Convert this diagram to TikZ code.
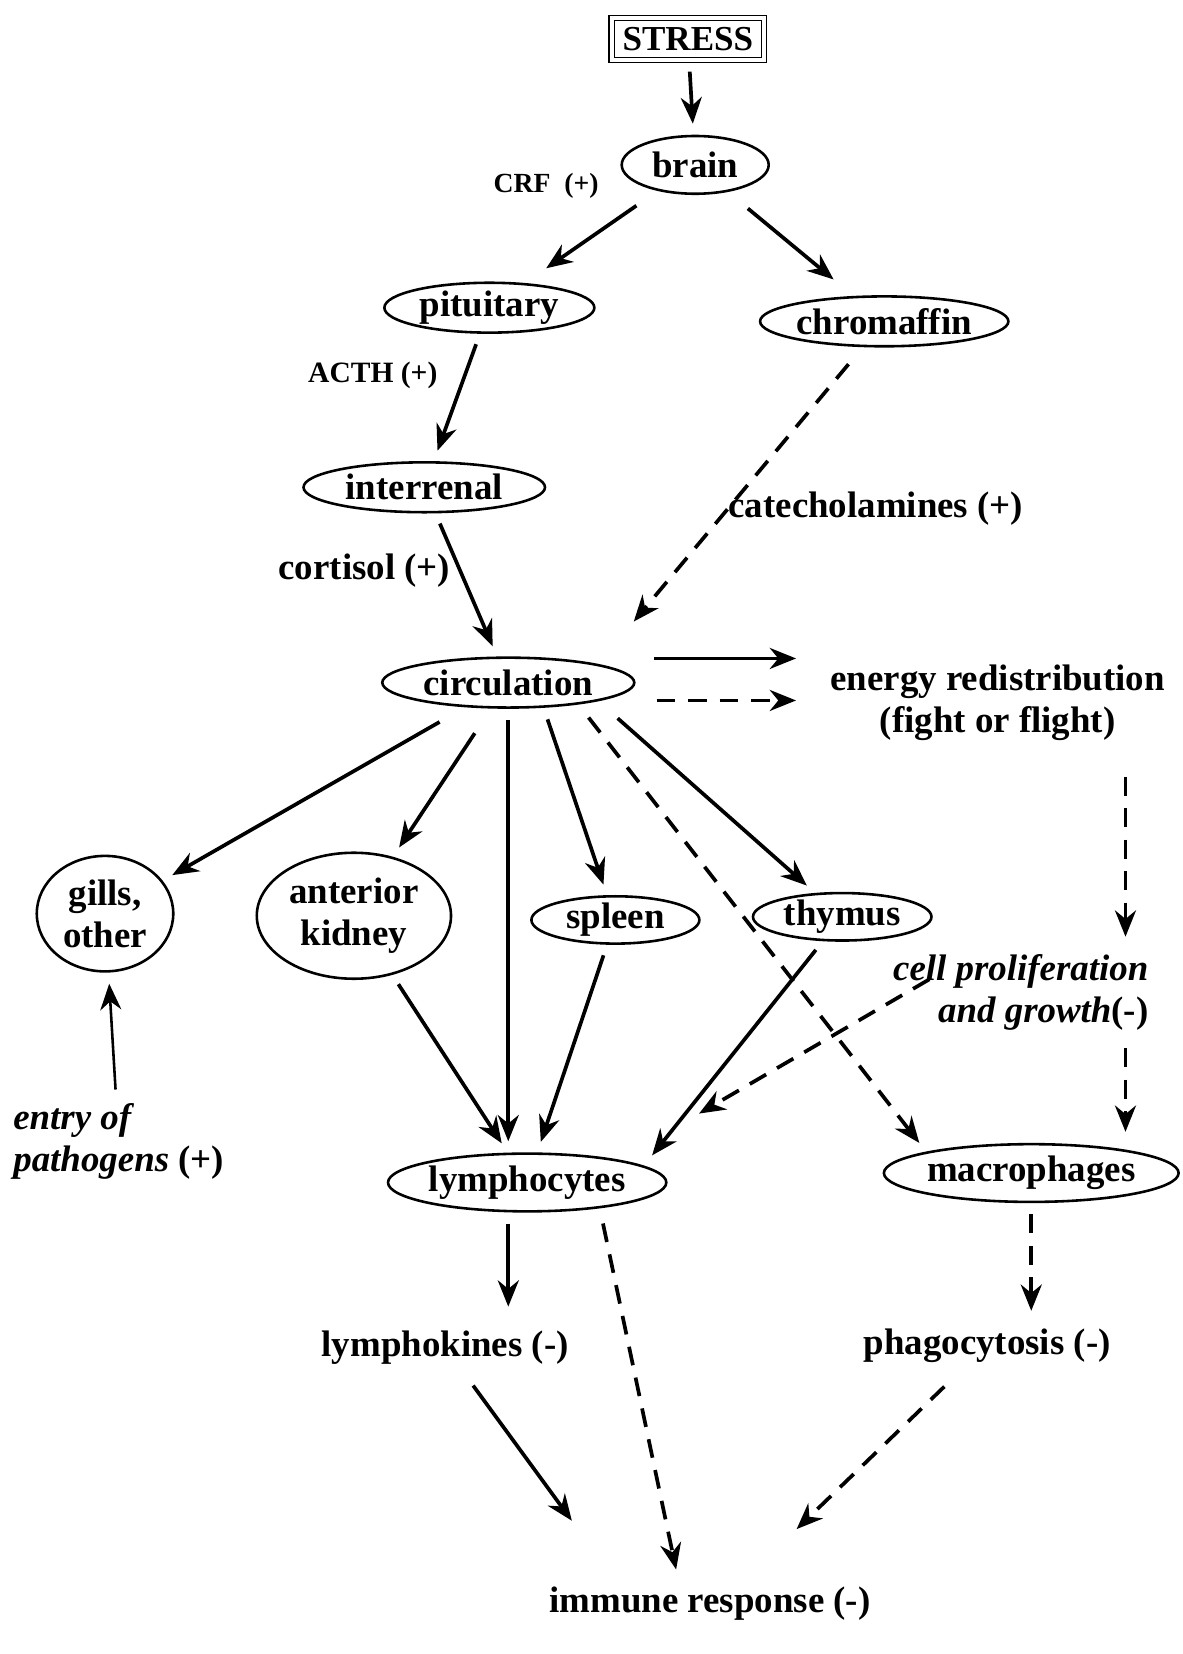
\documentclass[tikz,border=0pt]{standalone}
\usepackage{fontspec}
\setmainfont{Liberation Serif}
\usetikzlibrary{shapes.geometric,arrows.meta}
\tikzset{
  organ/.style={ellipse, draw, line width=1.4pt, inner sep=0pt, font=\fontsize{20}{23}\selectfont\bfseries},
  lbl/.style={font=\fontsize{20}{23}\selectfont\bfseries, align=center},
  ital/.style={font=\fontsize{20}{23}\selectfont\bfseries\itshape},
  arr/.style={line width=2pt, -{Stealth[length=5mm,width=4mm]}, shorten >=6pt, shorten <=6pt},
  darr/.style={arr, dash pattern=on 0.36cm off 0.24cm}
}
\begin{document}
\begin{tikzpicture}[x=0.02cm,y=-0.02cm]
\useasboundingbox (0,0) rectangle (1126,1575);

\node[draw, double, double distance=2pt, line width=0.8pt, minimum width=2.9cm, minimum height=0.8cm, inner sep=0pt, font=\fontsize{19}{22}\selectfont\bfseries] (stress) at (655,37) {STRESS};
\node[organ, minimum width=2.8cm, minimum height=1.1cm] (brain) at (662,157) {brain};
\node[organ, minimum width=4.0cm, minimum height=0.95cm] (pit) at (466,293) {pituitary};
\node[organ, minimum width=4.7cm, minimum height=0.95cm] (chrom) at (842,306) {chromaffin};
\node[organ, minimum width=4.6cm, minimum height=0.95cm] (inter) at (404,464) {interrenal};
\node[organ, minimum width=4.8cm, minimum height=0.95cm] (circ) at (484,650) {circulation};
\node[lbl] (energy) at (950,669) {energy redistribution\\(fight or flight)};
\node[organ, align=center, minimum width=2.6cm, minimum height=2.2cm] (gills) at (100,870) {gills,\\other};
\node[organ, align=center, minimum width=3.7cm, minimum height=2.4cm] (kidney) at (337,872) {anterior\\kidney};
\node[organ, minimum width=3.2cm, minimum height=0.9cm] (spleen) at (586,876) {spleen};
\node[organ, minimum width=3.4cm, minimum height=0.9cm] (thymus) at (802,873) {thymus};
\node[ital, align=right] (prolif) at (972,945) {cell proliferation\\and growth{\upshape(-)}};
\node[ital, align=left] (entry) at (113,1087) {entry of\\pathogens {\upshape(+)}};
\node[organ, minimum width=4.9cm, minimum height=1.1cm] (lymph) at (502,1126) {lymphocytes};
\node[organ, minimum width=5.5cm, minimum height=1.1cm] (macro) at (982,1117) {macrophages};
\node[lbl] (lkines) at (424,1283) {lymphokines (-)};
\node[lbl] (phago) at (940,1281) {phagocytosis (-)};
\node[lbl] (immune) at (676,1527) {immune response (-)};

% hormone labels
\node[lbl, font=\fontsize{15}{18}\selectfont\bfseries] (crf) at (520,177) {CRF~~(+)};
\node[lbl, font=\fontsize{16}{19}\selectfont\bfseries] (acth) at (355,357) {ACTH (+)};
\node[lbl] (cate) at (834,484) {catecholamines (+)};
\node[lbl] (cort) at (347,543) {cortisol (+)};

% axis
\draw[arr] (stress) -- (brain);
\draw[arr, shorten <=14pt, shorten >=14pt] (brain) -- (pit);
\draw[arr, shorten <=14pt, shorten >=14pt] (brain) -- (chrom);
\draw[arr] (pit) -- (inter);
\draw[darr, shorten <=12pt, shorten >=30pt] (chrom) -- (circ.north east);
\draw[arr] (inter) -- (circ);
\draw[arr, shorten <=0pt] ([shift={(18,-23)}]circ.east) -- ([shift={(-16,-42)}]energy.west);
\draw[darr, shorten <=0pt] ([shift={(20,17)}]circ.east) -- ([shift={(-16,-2)}]energy.west);
\draw[darr, shorten <=16pt] (energy.south -| prolif.north east) ++(-28,0) coordinate (e1) -- ([shift={(-28,0)}]prolif.north east);
\draw[darr] ([shift={(-28,0)}]prolif.south east) -- (macro.north -| e1);
\draw[darr, shorten <=0pt] ([shift={(-87,-55)}]prolif.south) -- ([shift={(60,-40)}]lymph.north east);

% organs
\draw[arr, shorten <=16pt] (circ) -- (gills);
\draw[arr, shorten <=16pt] (circ) -- (kidney);
\draw[arr] (circ.south) -- (lymph.north -| circ.south);
\draw[arr] ([shift={(34,0)}]circ.south) -- (spleen);
\draw[darr] ([shift={(70,0)}]circ.south) -- (macro.north west);
\draw[arr, shorten <=14pt] (circ.south east) -- (thymus);
\draw[arr] (kidney) -- (lymph);
\draw[arr] (spleen) -- (lymph);
\draw[arr, shorten >=4pt] (thymus) -- ([shift={(20,0)}]lymph.north east);
\draw[arr, line width=1.4pt, shorten <=4pt] (entry) -- (gills);

% outputs
\draw[arr] ([shift={(-18,0)}]lymph.south) -- ++(0,100);
\draw[darr] ([shift={(70,0)}]lymph.south) -- ([shift={(-30,0)}]immune.north);
\draw[arr, shorten <=10pt, shorten >=40pt] (lkines) -- ([shift={(-90,0)}]immune.north);
\draw[darr] (macro) -- (phago.north -| macro);
\draw[darr, shorten <=14pt, shorten >=40pt] (phago) -- ([shift={(32,0)}]immune.north);
\end{tikzpicture}
\end{document}
